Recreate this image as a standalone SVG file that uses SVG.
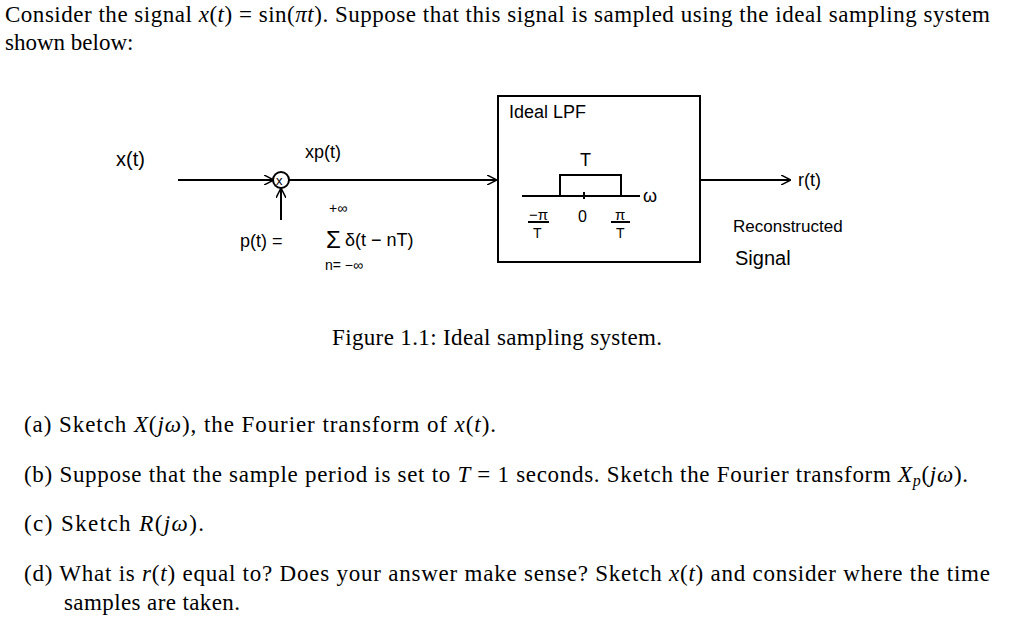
<svg xmlns="http://www.w3.org/2000/svg" width="1024" height="618" viewBox="0 0 1024 618">
<style>
.t{font-family:"Liberation Serif",serif;font-size:23px;fill:#000}
.h{font-family:"Liberation Sans",sans-serif;fill:#000}
.l{stroke:#000;stroke-width:2;fill:none}
</style>
<defs><marker id="a" viewBox="0 0 10 10" refX="9" refY="5" markerWidth="10" markerHeight="10" orient="auto" markerUnits="userSpaceOnUse"><path d="M0,0 L10,5 L0,10" fill="none" stroke="#000" stroke-width="1.5"/></marker></defs>
<rect width="1024" height="618" fill="#fff"/>
<text class="t" x="5" y="22" textLength="985">Consider the signal <tspan font-style="italic">x</tspan>(<tspan font-style="italic">t</tspan>) = sin(<tspan font-style="italic">πt</tspan>). Suppose that this signal is sampled using the ideal sampling system</text>
<text class="t" x="5" y="50">shown below:</text>
<g id="connectors">
<line class="l" x1="178" y1="180" x2="273" y2="180" marker-end="url(#a)"/>
<line class="l" x1="289" y1="180" x2="496" y2="180" marker-end="url(#a)"/>
<line class="l" x1="281" y1="220" x2="281" y2="189" marker-end="url(#a)"/>
<line class="l" x1="701" y1="180" x2="790" y2="180" marker-end="url(#a)"/>
</g>
<g font-size="18">
<g id="xt"><text class="h" x="116" y="166" font-size="20">x(t)</text></g>
<g id="mult"><circle class="l" cx="281" cy="180" r="8"/><text class="h" x="276" y="185" font-size="13">x</text><text class="h" x="305" y="158">xp(t)</text></g>
<g id="pt"><text class="h" x="240" y="247">p(t) =</text><text class="h" x="326" y="248" font-size="24">Σ</text><text class="h" x="345" y="246">δ(t − nT)</text><text class="h" x="329" y="213" font-size="14">+∞</text><text class="h" x="325" y="270" font-size="14">n= −∞</text></g>
<g id="lpf">
<rect class="l" x="498" y="96" width="202" height="166"/>
<text class="h" x="509" y="118">Ideal  LPF</text>
<text class="h" x="580" y="166">T</text>
<path class="l" d="M522,196 L640,196 M560,196 L560,175 L621,175 L621,196 M584,192 L584,199"/>
<text class="h" x="643" y="202">ω</text>
<text class="h" x="529" y="220" font-size="15">−π</text><line class="l" x1="528" y1="222" x2="549" y2="222"/><text class="h" x="533" y="238" font-size="14">T</text>
<text class="h" x="578" y="222" font-size="16">0</text>
<text class="h" x="615" y="220" font-size="15">π</text><line class="l" x1="611" y1="222" x2="630" y2="222"/><text class="h" x="616" y="238" font-size="14">T</text>
</g>
<g id="rt"><text class="h" x="798" y="186">r(t)</text><text class="h" x="733" y="232" font-size="17">Reconstructed</text><text class="h" x="735" y="265" font-size="20">Signal</text></g>
</g>
<text class="t" x="332" y="345" textLength="330">Figure 1.1: Ideal sampling system.</text>
<text class="t" x="24" y="432" textLength="472">(a)  Sketch <tspan font-style="italic">X</tspan>(<tspan font-style="italic">jω</tspan>), the Fourier transform of <tspan font-style="italic">x</tspan>(<tspan font-style="italic">t</tspan>).</text>
<text class="t" x="24" y="482" textLength="944">(b)  Suppose that the sample period is set to <tspan font-style="italic">T</tspan> = 1 seconds. Sketch the Fourier transform <tspan font-style="italic">X<tspan font-size="16" dy="4">p</tspan></tspan><tspan dy="-4">(</tspan><tspan font-style="italic">jω</tspan>).</text>
<text class="t" x="24" y="531" textLength="180">(c)  Sketch <tspan font-style="italic">R</tspan>(<tspan font-style="italic">jω</tspan>).</text>
<text class="t" x="24" y="581" textLength="966">(d)  What is <tspan font-style="italic">r</tspan>(<tspan font-style="italic">t</tspan>) equal to? Does your answer make sense? Sketch <tspan font-style="italic">x</tspan>(<tspan font-style="italic">t</tspan>) and consider where the time</text>
<text class="t" x="64" y="610" textLength="176">samples are taken.</text>
</svg>
